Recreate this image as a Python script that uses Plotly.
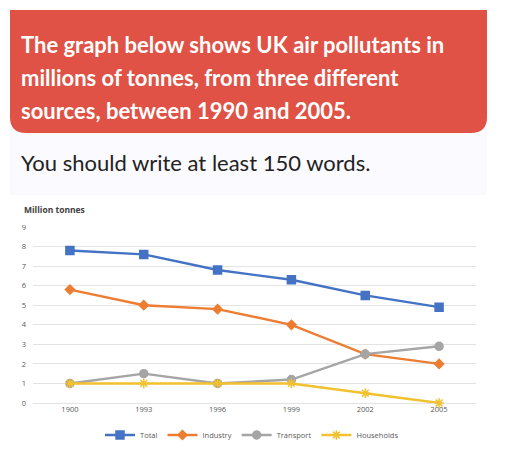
import plotly.graph_objects as go

years = ["1900", "1993", "1996", "1999", "2002", "2005"]
total = [7.8, 7.6, 6.8, 6.3, 5.5, 4.9]
industry = [5.8, 5.0, 4.8, 4.0, 2.5, 2.0]
transport = [1.0, 1.5, 1.0, 1.2, 2.5, 2.9]
households = [1.0, 1.0, 1.0, 1.0, 0.5, 0.0]
y_ticks = list(range(0, 10))

# the page body adds an 8px margin, so the figure is sized to fit the window
OFF = 8
W, H = 512 - OFF, 461 - OFF
L, R, T, B = 33 - OFF, 36, 227 - OFF, 58
PW, PH = W - L - R, H - T - B


def px(x):
    return (x - OFF - L) / PW


def py(y):
    return (H - B - (y - OFF)) / PH


fig = go.Figure()
series = [
    ("Total", total, "#4472C4", "square", 8),
    ("Industry", industry, "#ED7D31", "diamond", 7),
    ("Transport", transport, "#A5A5A5", "circle", 8),
    ("Households", households, "#F2C12E", "asterisk-open", 8),
]
for name, vals, col, sym, size in series:
    fig.add_trace(go.Scatter(
        x=years, y=vals, name=name, mode="lines+markers",
        line=dict(color=col, width=2.4),
        marker=dict(symbol=sym, size=size, color=col, line=dict(color=col, width=1.5)),
        cliponaxis=False,
    ))

# red header box with rounded bottom corners
x0, x1, y0, y1, r = 10, 487, 10, 133, 16
path = (f"M {px(x0)},{py(y0)} L {px(x1)},{py(y0)} L {px(x1)},{py(y1 - r)} "
        f"Q {px(x1)},{py(y1)} {px(x1 - r)},{py(y1)} L {px(x0 + r)},{py(y1)} "
        f"Q {px(x0)},{py(y1)} {px(x0)},{py(y1 - r)} Z")
shapes = [
    dict(type="rect", xref="paper", yref="paper", x0=px(10), x1=px(487), y0=py(195), y1=py(125),
         fillcolor="#FBFAFE", line=dict(width=0), layer="below"),
    dict(type="path", xref="paper", yref="paper", path=path,
         fillcolor="#E05245", line=dict(width=0), layer="below"),
    dict(type="rect", xref="paper", yref="paper", x0=px(508), x1=px(520), y0=py(320), y1=py(22),
         fillcolor="#F4F4F6", line=dict(color="#DCDCE0", width=1), layer="below"),
]

head_lines = ["The graph below shows UK air pollutants in",
              "millions of tonnes, from three different",
              "sources, between 1990 and 2005."]
annotations = []
for i, t in enumerate(head_lines):
    annotations.append(dict(
        text=t, xref="paper", yref="paper", x=px(19), y=py(44 + i * 33),
        xanchor="left", yanchor="middle", showarrow=False,
        font=dict(family="Lato", size=22, color="white", weight="bold")))
annotations.append(dict(
    text="You should write at least 150 words.", xref="paper", yref="paper",
    x=px(19), y=py(162), xanchor="left", yanchor="middle", showarrow=False,
    font=dict(family="Lato", size=22, color="#222222")))
annotations.append(dict(
    text="<b>Million tonnes</b>", xref="paper", yref="paper",
    x=px(22), y=py(209), xanchor="left", yanchor="middle", showarrow=False,
    font=dict(family="Open Sans", size=8.5, color="#404040")))

fig.update_layout(
    width=W, height=H, autosize=False,
    margin=dict(l=L, r=R, t=T, b=B),
    paper_bgcolor="white", plot_bgcolor="white",
    shapes=shapes, annotations=annotations,
    legend=dict(orientation="h", x=px(252), xanchor="center", y=py(435), yanchor="middle",
                font=dict(family="Open Sans", size=7.5, color="#595959"),
                itemwidth=30, tracegroupgap=0),
    xaxis=dict(range=[-0.5, 5.5], showgrid=False, showline=False, ticks="",
               tickfont=dict(family="Open Sans", size=7.5, color="#595959")),
    yaxis=dict(range=[0, 9], tickvals=y_ticks, showgrid=True, gridcolor="#E3E3E3",
               gridwidth=1, zeroline=True, zerolinecolor="#E3E3E3", zerolinewidth=1,
               showline=False, ticks="", ticklabelstandoff=6,
               tickfont=dict(family="Open Sans", size=7.5, color="#595959")),
    showlegend=True,
)

fig.write_html("out.html")
